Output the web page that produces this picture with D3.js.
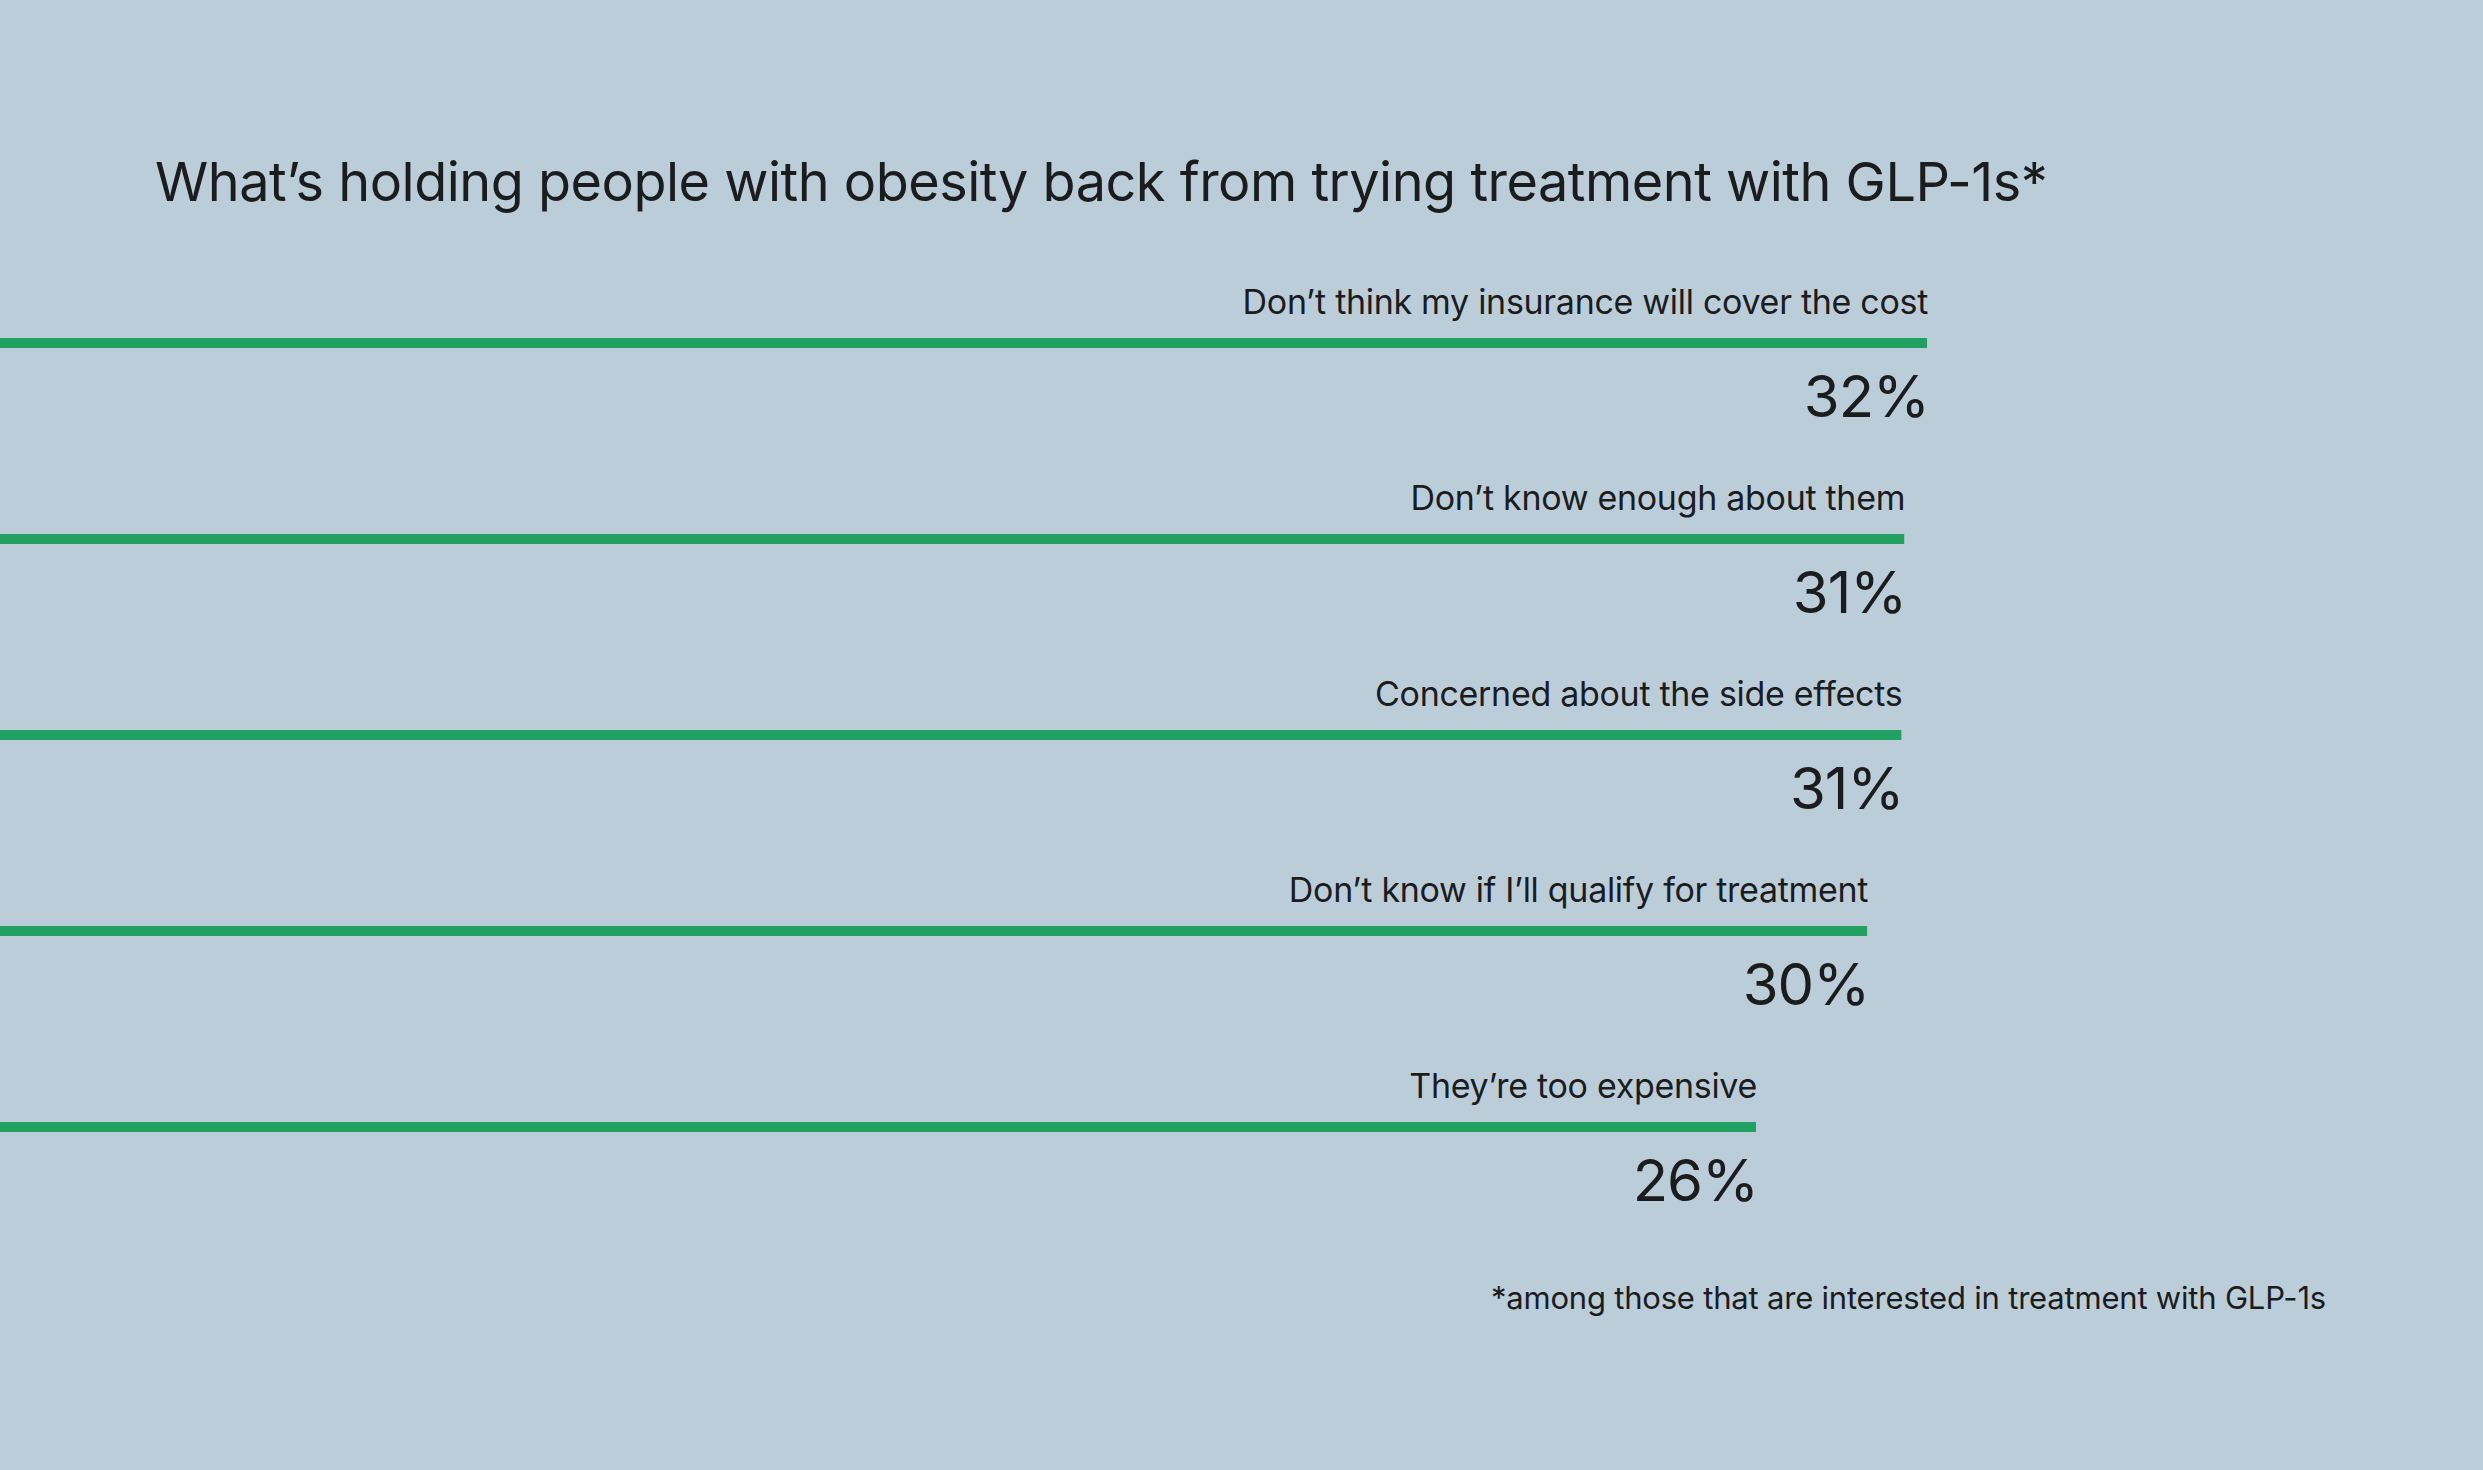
<!DOCTYPE html>
<html>
<head>
<meta charset="utf-8">
<script src="https://cdn.jsdelivr.net/npm/d3@7"></script>
<style>
  html, body { margin: 0; padding: 0; background: #bccdda; overflow: hidden; }
  text { font-family: Inter, "Noto Sans", sans-serif; fill: #1b1c1e; }
</style>
</head>
<body>
<script>
// data
var categories = [
    "Don\u2019t think my insurance will cover the cost",
    "Don\u2019t know enough about them",
    "Concerned about the side effects",
    "Don\u2019t know if I\u2019ll qualify for treatment",
    "They\u2019re too expensive"
];
var values = [32, 31.2, 31.1, 29.9, 26];
var valueLabels = ["32%", "31%", "31%", "30%", "26%"];

var title = "What\u2019s holding people with obesity back from trying treatment with GLP-1s*";
var footnote = "*among those that are interested in treatment with GLP-1s";

window.onload = function() {
    drawChart();
};

function drawChart() {
    const width = 2483;
    const height = 1470;

    var svg = d3.select("body")
                .append("svg")
                .attr("width", width)
                .attr("height", height);

    svg.append("rect")
        .attr("width", width)
        .attr("height", height)
        .attr("fill", "#bccdda");

    // title
    svg.append("text")
        .attr("x", 155)
        .attr("y", 201)
        .style("font-size", "54px")
        .style("letter-spacing", "-0.5px")
        .text(title);

    // bars run off the left edge, so the scale starts off-screen
    var x = d3.scaleLinear()
                .domain([0, 32])
                .range([1015, 1927]);

    var y = d3.scaleBand()
                .domain(categories)
                .range([245, 1225])
                .paddingInner(0);

    var row = svg.selectAll("g.row")
                .data(categories)
                .enter()
                .append("g")
                .attr("class", "row")
                .attr("transform", function(d) { return "translate(0," + (y(d) + y.bandwidth() / 2) + ")"; });

    // bar
    row.append("rect")
        .attr("x", 0)
        .attr("y", -5)
        .attr("height", 10)
        .attr("width", function(d, i) { return x(values[i]); })
        .attr("fill", "#22a062");

    // category label above the bar
    row.append("text")
        .attr("x", function(d, i) { return x(values[i]) + 1; })
        .attr("y", -29)
        .attr("text-anchor", "end")
        .style("font-size", "34px")
        .style("letter-spacing", "-0.3px")
        .text(function(d) { return d; });

    // value below the bar
    row.append("text")
        .attr("x", function(d, i) { return x(values[i]) + 2; })
        .attr("y", 74)
        .attr("text-anchor", "end")
        .style("font-size", "58px")
        .style("letter-spacing", "-1px")
        .text(function(d, i) { return valueLabels[i]; });

    // footnote
    svg.append("text")
        .attr("x", 2326)
        .attr("y", 1309)
        .attr("text-anchor", "end")
        .style("font-size", "31px")
        .style("letter-spacing", "-0.2px")
        .text(footnote);
}
</script>
</body>
</html>
